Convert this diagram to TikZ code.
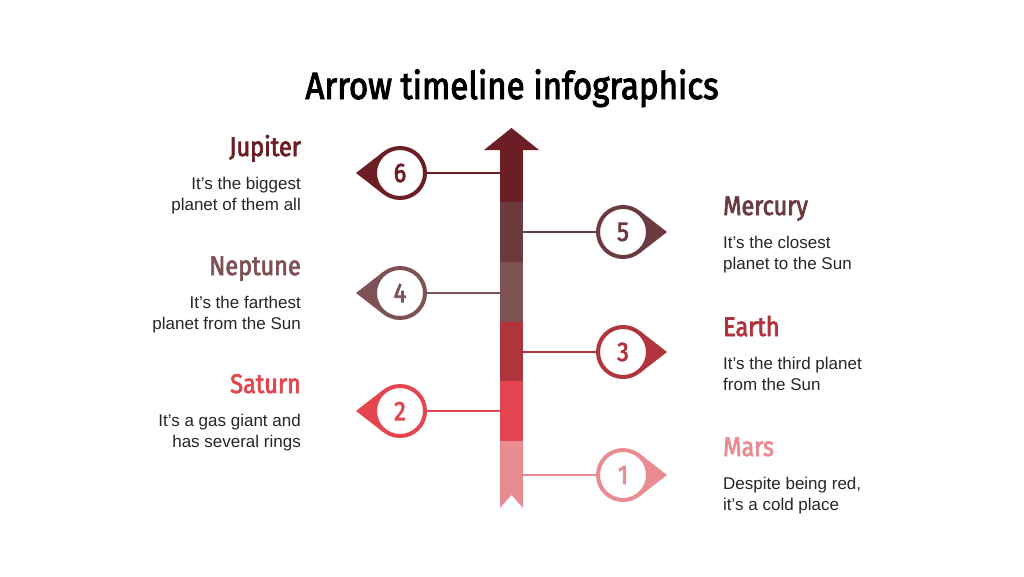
\documentclass[tikz,border=0pt]{standalone}
\usepackage{fontspec}
\setmainfont{Liberation Sans}
\newfontfamily\headfont[FakeStretch=0.87,FakeBold=2.6]{Fira Sans}
\usetikzlibrary{positioning}

\definecolor{cOne}{HTML}{E88C91}
\definecolor{cTwo}{HTML}{E4464F}
\definecolor{cThree}{HTML}{B0343C}
\definecolor{cFour}{HTML}{7E5154}
\definecolor{cFive}{HTML}{6C3B3F}
\definecolor{cSix}{HTML}{6B1E23}

\pgfdeclarelayer{back}
\pgfsetlayers{back,main}

\begin{document}
\begin{tikzpicture}[x=1pt, y=-1pt]
    \tikzstyle{pin}=[circle, fill=white, line width=4pt, minimum size=50pt, inner sep=0pt, font=\headfont\fontsize{27}{27}\selectfont]
    \tikzstyle{seg}=[rectangle, minimum width=23pt, inner sep=0pt, outer sep=0pt]
    \tikzstyle{head}=[inner sep=0pt, font=\headfont\fontsize{27}{27}\selectfont]
    \tikzstyle{body}=[inner sep=0pt, align=left, text=black!85, font=\fontsize{17}{20.5}\selectfont]
    \tikzstyle{connect}=[line width=2pt]

      \useasboundingbox (0,0) rectangle (1024,576);
      \begin{pgfonlayer}{back}
        \fill[white] (0,0) rectangle (1024,576);
      \end{pgfonlayer}

      \node[anchor=base, inner sep=0pt, font=\headfont\fontsize{38}{38}\selectfont] (title) at (512,99) {Arrow timeline infographics};

      % shaft of the arrow
      \node[seg, fill=cSix, minimum height=52pt] (seg6) at (511.5,176) {};
      \node[seg, fill=cFive, minimum height=60pt] (seg5) at (511.5,232) {};
      \node[seg, fill=cFour, minimum height=60pt] (seg4) at (511.5,292) {};
      \node[seg, fill=cThree, minimum height=59pt] (seg3) at (511.5,351.5) {};
      \node[seg, fill=cTwo, minimum height=60pt] (seg2) at (511.5,411) {};
      \node[seg, fill=cOne, minimum height=54pt] (seg1) at (511.5,468) {};
      \fill[cSix] ([xshift=-16pt]seg6.north west) -- ([yshift=22pt]seg6.north) -- ([xshift=16pt]seg6.north east) -- cycle;
      \fill[cOne] (seg1.south west) -- ([yshift=-13pt]seg1.south west) -- (seg1.south) -- ([yshift=-13pt]seg1.south east) -- (seg1.south east) -- cycle;

      % pins
      \node[pin, draw=cSix, text=cSix] (p6) at (400,173) {6};
      \node[pin, draw=cFive, text=cFive] (p5) at (623,232) {5};
      \node[pin, draw=cFour, text=cFour] (p4) at (400,293) {4};
      \node[pin, draw=cThree, text=cThree] (p3) at (623,352) {3};
      \node[pin, draw=cTwo, text=cTwo] (p2) at (400,411) {2};
      \node[pin, draw=cOne, text=cOne] (p1) at (623,475) {1};
      \begin{pgfonlayer}{back}
        \fill[cSix] ([xshift=-44pt]p6.center) -- (p6.128) -- (p6.232) -- cycle;
        \fill[cFour] ([xshift=-44pt]p4.center) -- (p4.128) -- (p4.232) -- cycle;
        \fill[cTwo] ([xshift=-44pt]p2.center) -- (p2.128) -- (p2.232) -- cycle;
        \fill[cFive] ([xshift=44pt]p5.center) -- (p5.52) -- (p5.-52) -- cycle;
        \fill[cThree] ([xshift=44pt]p3.center) -- (p3.52) -- (p3.-52) -- cycle;
        \fill[cOne] ([xshift=44pt]p1.center) -- (p1.52) -- (p1.-52) -- cycle;
      \end{pgfonlayer}
      \draw[connect, cSix] (p6) -- (p6 -| seg6.west);
      \draw[connect, cFive] (p5) -- (p5 -| seg5.east);
      \draw[connect, cFour] (p4) -- (p4 -| seg4.west);
      \draw[connect, cThree] (p3) -- (p3 -| seg3.east);
      \draw[connect, cTwo] (p2) -- (p2 -| seg2.west);
      \draw[connect, cOne] (p1) -- (p1 -| seg1.east);

      % planet texts
      \node[head, anchor=base east, text=cSix] (jupiter) at (301,156) {Jupiter};
      \node[body, align=right, below left=21pt and 0pt of jupiter.base east] (jupitertext) {It’s the biggest\\planet of them all};
      \node[head, anchor=base east, text=cFour] (neptune) at (301,275) {Neptune};
      \node[body, align=right, below left=21pt and 0pt of neptune.base east] (neptunetext) {It’s the farthest\\planet from the Sun};
      \node[head, anchor=base east, text=cTwo] (saturn) at (301,393) {Saturn};
      \node[body, align=right, below left=21pt and 0pt of saturn.base east] (saturntext) {It’s a gas giant and\\has several rings};
      \node[head, anchor=base west, text=cFive] (mercury) at (723,215) {Mercury};
      \node[body, below right=21pt and 0pt of mercury.base west] (mercurytext) {It’s the closest\\planet to the Sun};
      \node[head, anchor=base west, text=cThree] (earth) at (723,336) {Earth};
      \node[body, below right=21pt and 0pt of earth.base west] (earthtext) {It’s the third planet\\from the Sun};
      \node[head, anchor=base west, text=cOne] (mars) at (723,456) {Mars};
      \node[body, below right=21pt and 0pt of mars.base west] (marstext) {Despite being red,\\it’s a cold place};
    \end{tikzpicture}
\end{document}
